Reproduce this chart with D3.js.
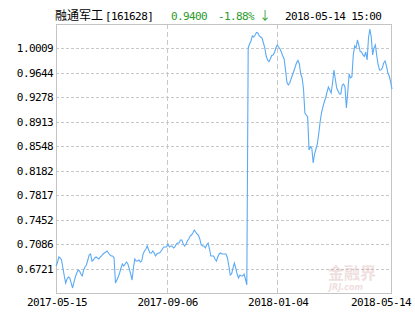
<!DOCTYPE html>
<html>
<head>
<meta charset="utf-8">
<script src="https://cdn.jsdelivr.net/npm/d3@7/dist/d3.min.js"></script>
<style>
  html, body { margin: 0; padding: 0; background: #fff; }
  svg { display: block; }
  .mono { font-family: "DejaVu Sans Mono", "Liberation Mono", monospace; font-size: 11px; letter-spacing: -0.6px; }
</style>
</head>
<body>
<svg id="chart" width="415" height="330"></svg>
<script>
// ---- data ----
const fundName = "融通军工";
const fundCode = "[161628]";
const lastPrice = "0.9400";
const lastChange = "-1.88%";
const changeArrow = "↓";
const lastTime = "2018-05-14 15:00";

// daily NAV values (trading-day index 0 .. 243)
const navValues = [
  0.6759,0.6804,0.6894,0.6879,0.6849,0.6729,0.6610,0.6505,0.6565,0.6595,
  0.6580,0.6505,0.6431,0.6520,0.6595,0.6655,0.6700,0.6685,0.6640,0.6610,
  0.6700,0.6744,0.6774,0.6849,0.6924,0.6939,0.6834,0.6849,0.6879,0.6894,
  0.6879,0.6864,0.6894,0.6909,0.6939,0.6954,0.6968,0.6983,0.6954,0.6924,
  0.6909,0.6909,0.6879,0.6505,0.6550,0.6595,0.6655,0.6729,0.6789,0.6759,
  0.6789,0.6819,0.6789,0.6715,0.6640,0.6550,0.6729,0.6864,0.6834,0.6834,
  0.6849,0.6819,0.6834,0.6939,0.6983,0.7013,0.7058,0.6998,0.6954,0.6954,
  0.6983,0.6954,0.6909,0.6939,0.6954,0.6954,0.6983,0.7013,0.7043,0.7043,
  0.7043,0.7088,0.7043,0.7058,0.7058,0.7028,0.7043,0.7088,0.7103,0.7103,
  0.7148,0.7148,0.7088,0.7058,0.7088,0.7133,0.7163,0.7207,0.7222,0.7252,
  0.7297,0.7267,0.7237,0.7222,0.7163,0.7073,0.7058,0.7058,0.7028,0.7073,
  0.7103,0.7013,0.6909,0.6909,0.6909,0.6864,0.6834,0.6894,0.6939,0.6954,
  0.6939,0.6939,0.6939,0.6939,0.6879,0.6759,0.6625,0.6640,0.6729,0.6804,
  0.6729,0.6640,0.6580,0.6625,0.6610,0.6610,0.6640,0.6565,0.6476,1.0016,
  1.0075,1.0120,1.0195,1.0180,1.0210,1.0247,1.0240,1.0195,1.0180,1.0165,
  1.0090,1.0016,0.9896,0.9836,0.9814,0.9851,0.9904,0.9911,0.9948,1.0016,
  1.0060,1.0031,1.0001,0.9956,0.9896,0.9851,0.9687,0.9508,0.9463,0.9493,
  0.9553,0.9612,0.9672,0.9732,0.9799,0.9829,0.9777,0.9627,0.9568,0.9403,
  0.9045,0.9015,0.8985,0.8492,0.8541,0.8522,0.8298,0.8432,0.8507,0.8582,
  0.8731,0.8910,0.9045,0.9134,0.9209,0.9269,0.9358,0.9433,0.9388,0.9343,
  0.9493,0.9687,0.9553,0.9418,0.9373,0.9329,0.9329,0.9463,0.9478,0.9433,
  0.9119,0.9358,0.9627,0.9568,0.9582,0.9911,1.0045,1.0016,1.0135,1.0060,
  0.9963,0.9956,0.9911,0.9889,0.9956,0.9836,1.0165,1.0299,1.0180,0.9911,
  1.0016,1.0060,0.9896,0.9762,0.9687,0.9687,0.9717,0.9792,0.9821,0.9747,
  0.9642,0.9597,0.9508,0.9400
];

const yTickValues = [0.6721, 0.7086, 0.7452, 0.7817, 0.8182, 0.8548, 0.8913, 0.9278, 0.9644, 1.0009];
const yDomain = [0.6356, 1.0374];

const xTickLabels = ["2017-05-15", "2017-09-06", "2018-01-04", "2018-05-14"];
const xTickIndex = [0, 80, 160, 243];

// ---- layout ----
const W = 415, H = 330;
const L = 56, R = 392, T = 24, B = 293;

const svg = d3.select("#chart");

const x = d3.scaleLinear().domain([0, navValues.length - 1]).range([L, R]);
const y = d3.scaleLinear().domain(yDomain).range([B, T]);

// horizontal grid
svg.append("g").selectAll("line").data(yTickValues).join("line")
  .attr("x1", L).attr("x2", R)
  .attr("y1", d => Math.round(y(d)) + 0.5).attr("y2", d => Math.round(y(d)) + 0.5)
  .attr("stroke", "#c8c8c8").attr("stroke-width", 1).attr("stroke-dasharray", "3,2");

// vertical grid (inner date ticks)
svg.append("g").selectAll("line").data(xTickIndex.slice(1, -1)).join("line")
  .attr("x1", d => Math.round(x(d)) + 0.5).attr("x2", d => Math.round(x(d)) + 0.5)
  .attr("y1", T).attr("y2", B)
  .attr("stroke", "#c8c8c8").attr("stroke-width", 1).attr("stroke-dasharray", "5,3");

// watermark
const wm = svg.append("g").attr("opacity", 0.4);
wm.append("text").attr("x", 328).attr("y", 279)
  .attr("font-family", "Noto Sans CJK SC").attr("font-weight", "bold").attr("font-size", 16)
  .attr("fill", "#d9b0b0").text("金融界");
wm.append("text").attr("x", 329).attr("y", 290)
  .attr("font-family", "DejaVu Sans").attr("font-style", "italic").attr("font-weight", "bold").attr("font-size", 8)
  .attr("fill", "#d9b0b0").text("JRJ.com");

// frame
svg.append("rect").attr("x", L + 0.5).attr("y", T + 0.5)
  .attr("width", R - L - 1).attr("height", B - T)
  .attr("fill", "none").attr("stroke", "#c4c4c4").attr("stroke-width", 1);

// line
const line = d3.line().x((d, i) => x(i)).y(d => y(d));
svg.append("path").datum(navValues)
  .attr("d", line)
  .attr("fill", "none").attr("stroke", "#5aaaf5").attr("stroke-width", 1.1);

// y labels
svg.append("g").selectAll("text").data(yTickValues).join("text")
  .attr("class", "mono")
  .attr("x", L - 3).attr("y", d => Math.round(y(d)) + 4)
  .attr("text-anchor", "end").attr("fill", "#000")
  .text(d => d.toFixed(4));

// x labels
svg.append("g").selectAll("text").data(xTickIndex).join("text")
  .attr("class", "mono")
  .attr("x", (d, i) => Math.min(x(d) + 1, W - 34))
  .attr("y", 306)
  .attr("text-anchor", "middle").attr("fill", "#000")
  .text((d, i) => xTickLabels[i]);

// title
const t = svg.append("g");
t.append("text").attr("x", 55).attr("y", 20)
  .attr("font-family", "Noto Sans CJK SC").attr("font-size", 12).attr("fill", "#000")
  .text(fundName);
t.append("text").attr("class", "mono").attr("x", 105).attr("y", 20).attr("fill", "#000").text(fundCode);
t.append("text").attr("class", "mono").attr("x", 171).attr("y", 20).attr("fill", "#2a9a2a").text(lastPrice);
t.append("text").attr("class", "mono").attr("x", 218).attr("y", 20).attr("fill", "#2a9a2a").text(lastChange);
t.append("text").attr("x", 259).attr("y", 20)
  .attr("font-family", "Noto Sans CJK SC").attr("font-size", 12).attr("fill", "#2a9a2a")
  .text(changeArrow);
t.append("text").attr("class", "mono").attr("x", 285).attr("y", 20).attr("fill", "#000").text(lastTime);
</script>
</body>
</html>
